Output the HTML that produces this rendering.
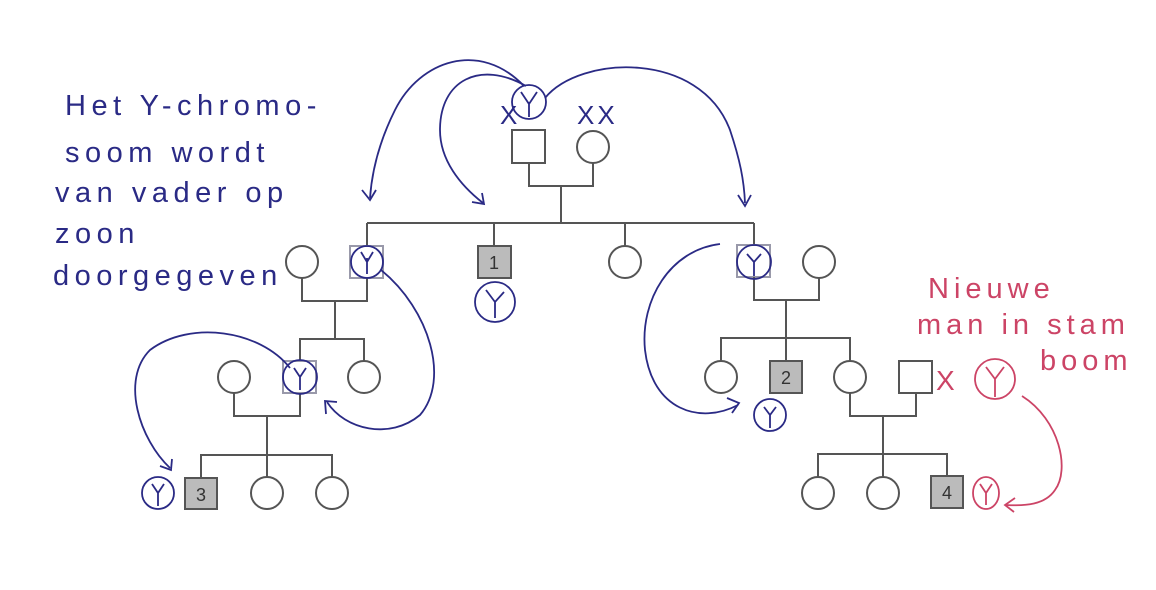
<!DOCTYPE html>
<html><head><meta charset="utf-8"><style>
html,body{margin:0;padding:0;background:#fff;}
svg{display:block}
.h{font-family:"Liberation Sans",sans-serif;font-weight:normal}
</style></head><body>
<svg width="1156" height="590" viewBox="0 0 1156 590" xmlns="http://www.w3.org/2000/svg">
<rect width="1156" height="590" fill="#fff"/>
<g stroke="#555" stroke-width="2" fill="none">
<rect x="512" y="130" width="33" height="33" fill="#fff"/>
<circle cx="593" cy="147" r="16"/>
<polyline points="529,163 529,186 593,186 593,163"/>
<line x1="561" y1="186" x2="561" y2="223"/>
<line x1="367" y1="223" x2="754" y2="223"/>
<line x1="367" y1="223" x2="367" y2="246"/>
<line x1="494" y1="223" x2="494" y2="246"/>
<line x1="625" y1="223" x2="625" y2="246"/>
<line x1="754" y1="223" x2="754" y2="245"/>
<circle cx="302" cy="262" r="16"/>
<rect x="350" y="246" width="33" height="32" stroke="#99a"/>
<rect x="478" y="246" width="33" height="32" fill="#bbb"/>
<circle cx="625" cy="262" r="16"/>
<polyline points="302,278 302,301 367,301 367,278"/>
<line x1="335" y1="301" x2="335" y2="339"/>
<polyline points="300,361 300,339 364,339 364,361"/>
<circle cx="234" cy="377" r="16"/>
<rect x="283" y="361" width="33" height="32" stroke="#99a"/>
<circle cx="364" cy="377" r="16"/>
<polyline points="234,393 234,416 300,416 300,393"/>
<line x1="267" y1="416" x2="267" y2="455"/>
<polyline points="201,478 201,455 332,455 332,477"/>
<line x1="267" y1="455" x2="267" y2="477"/>
<rect x="185" y="478" width="32" height="31" fill="#bbb"/>
<circle cx="267" cy="493" r="16"/>
<circle cx="332" cy="493" r="16"/>
<rect x="737" y="245" width="33" height="32" stroke="#99a"/>
<circle cx="819" cy="262" r="16"/>
<polyline points="754,277 754,300 819,300 819,278"/>
<line x1="786" y1="300" x2="786" y2="338"/>
<polyline points="721,361 721,338 850,338 850,361"/>
<line x1="786" y1="338" x2="786" y2="361"/>
<circle cx="721" cy="377" r="16"/>
<rect x="770" y="361" width="32" height="32" fill="#bbb"/>
<circle cx="850" cy="377" r="16"/>
<rect x="899" y="361" width="33" height="32"/>
<polyline points="850,393 850,416 916,416 916,393"/>
<line x1="883" y1="416" x2="883" y2="454"/>
<polyline points="818,477 818,454 947,454 947,476"/>
<line x1="883" y1="454" x2="883" y2="477"/>
<circle cx="818" cy="493" r="16"/>
<circle cx="883" cy="493" r="16"/>
<rect x="931" y="476" width="32" height="32" fill="#bbb"/>
</g>
<g class="h" fill="#333" font-size="18" font-weight="bold" text-anchor="middle">
<text x="494" y="269">1</text><text x="786" y="384">2</text><text x="201" y="501">3</text><text x="947" y="499">4</text>
</g>
<g class="h" fill="#2a2a85" font-size="29" letter-spacing="5.5">
<text x="65" y="115">Het Y-chromo-</text>
<text x="65" y="162">soom  wordt</text>
<text x="55" y="202">van vader op</text>
<text x="55" y="243">zoon</text>
<text x="53" y="285">doorgegeven</text>
</g>
<g class="h" fill="#2a2a85" font-size="26" letter-spacing="3">
<text x="500" y="124">X</text>
<text x="577" y="124">XX</text>
</g>
<g stroke="#2a2a85" stroke-width="1.8" fill="none">
<circle cx="529" cy="102" r="17"/>
<path d="M529,102 L529,117 M521,92 L529,104 L537,92"/>
<circle cx="367" cy="262" r="16"/><path d="M367,258 L367,274 M361,252 L367,262 L373,252"/>
<circle cx="495" cy="302" r="20"/><path d="M495,302 L495,318 M486,290 L495,302 L504,292"/>
<circle cx="300" cy="377" r="17"/><path d="M300,377 L300,390 M294,368 L300,377 L306,368"/>
<circle cx="158" cy="493" r="16"/><path d="M158,493 L158,506 M152,484 L158,493 L164,484"/>
<circle cx="754" cy="262" r="17"/><path d="M754,262 L754,276 M747,254 L754,262 L761,254"/>
<circle cx="770" cy="415" r="16"/><path d="M770,415 L770,428 M764,407 L770,415 L776,407"/>
<path d="M524,86 C480,40 420,60 395,110 C380,140 372,170 370,198"/>
<path d="M362,190 L370,200 L376,190"/>
<path d="M526,86 C480,60 440,80 440,130 C440,160 460,185 483,203"/>
<path d="M472,202 L484,204 L482,193"/>
<path d="M545,98 C580,55 700,50 730,130 C740,160 744,180 745,203"/>
<path d="M738,195 L745,206 L751,195"/>
<path d="M381,270 C430,310 450,380 420,415 C390,440 345,430 327,402"/>
<path d="M326,414 L325,401 L337,402"/>
<path d="M290,368 C260,330 190,320 150,350 C120,380 140,440 170,468"/>
<path d="M160,466 L171,470 L172,459"/>
<path d="M720,244 C670,250 640,300 645,350 C652,410 700,425 738,405"/>
<path d="M727,398 L739,403 L732,413"/>
</g>
<g class="h" fill="#cc4466" font-size="29" letter-spacing="5">
<text x="928" y="298">Nieuwe</text>
<text x="917" y="334">man in stam</text>
<text x="1040" y="370">boom</text>
</g>
<g class="h" fill="#cc4466" font-size="28"><text x="936" y="390">X</text></g>
<g stroke="#cc4466" stroke-width="1.8" fill="none">
<circle cx="995" cy="379" r="20"/><path d="M995,379 L995,397 M986,367 L995,379 L1004,367"/>
<ellipse cx="986" cy="493" rx="13" ry="16"/><path d="M986,493 L986,505 M980,484 L986,493 L992,484"/>
<path d="M1022,396 C1060,420 1070,470 1055,490 C1045,505 1025,506 1006,505"/>
<path d="M1015,498 L1005,505 L1014,512"/>
</g>
</svg>
</body></html>
